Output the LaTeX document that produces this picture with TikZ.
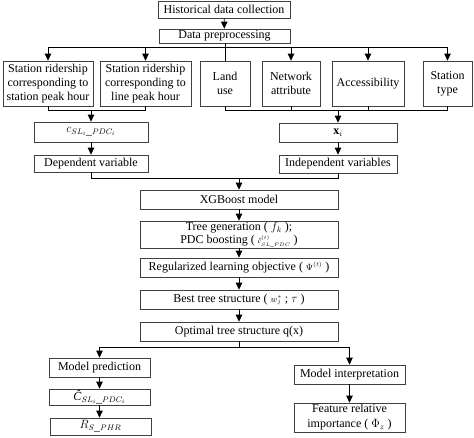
\documentclass[tikz,border=0pt]{standalone}
\usepackage{fontspec}
\setmainfont{Liberation Serif}
\usetikzlibrary{arrows.meta}
\begin{document}
\begin{tikzpicture}[x=1pt,y=-1pt,
  box/.style={draw=black!75,line width=0.7pt,inner sep=0pt,align=center,
    font=\fontsize{12}{14}\selectfont},
  conn/.style={draw=black,line width=0.8pt},
  arr/.style={conn,-{Triangle[width=6.5pt,length=7pt]}}]
\useasboundingbox (0,0) rectangle (474,438);
% top
\node[box,minimum width=132,minimum height=17] (hist) at (224,9.5) {Historical data collection};
\node[box,minimum width=131,minimum height=14] (prep) at (224.5,36) {Data preprocessing};
% row of factors
\node[box,minimum width=90,minimum height=45] (s1) at (48,83.5) {Station ridership\\corresponding to\\station peak hour};
\node[box,minimum width=91,minimum height=45] (s2) at (145.5,83.5) {Station ridership\\corresponding to\\line peak hour};
\node[box,minimum width=50,minimum height=45] (land) at (225,83.5) {Land\\use};
\node[box,minimum width=58,minimum height=45] (net) at (291,83.5) {Network\\attribute};
\node[box,minimum width=72,minimum height=45] (acc) at (368,83.5) {Accessibility};
\node[box,minimum width=49,minimum height=45] (stype) at (447.5,83.5) {Station\\type};
% variables
\node[box,minimum width=114,minimum height=20] (cvar) at (91,132) {$c_{SL_i\_PDC_i}$};
\node[box,minimum width=114,minimum height=17] (dep) at (91,163.5) {Dependent variable};
\node[box,minimum width=118,minimum height=19] (xvar) at (338,132.5) {$\mathbf{x}_i$};
\node[box,minimum width=118,minimum height=18] (indep) at (338,164) {Independent variables};
% model chain
\node[box,minimum width=198,minimum height=19] (xgb) at (239,199.5) {XGBoost model};
\node[box,minimum width=198,minimum height=27,font=\fontsize{12}{13}\selectfont] (tree) at (239,234.5) {Tree generation ( $f_k$ );\\PDC boosting ( {\scriptsize\textit{ĉ}$^{(t)}_{SL\_PDC}$} )};
\node[box,minimum width=198,minimum height=19] (reg) at (239,267.5) {Regularized learning objective ( {\small$\Psi^{(t)}$} )};
\node[box,minimum width=198,minimum height=19] (best) at (239,299.5) {Best tree structure ( {\small$w_j^{*}$} ; $\tau$ )};
\node[box,minimum width=198,minimum height=19] (opt) at (239,331.5) {Optimal tree structure q(x)};
% outputs
\node[box,minimum width=101,minimum height=19] (mp) at (99.5,367.5) {Model prediction};
\node[box,minimum width=101,minimum height=16] (chat) at (99.5,397) {\textit{Ĉ}$_{SL_i\_PDC_i}$};
\node[box,minimum width=101,minimum height=17] (rphr) at (100.5,426.5) {$R_{S\_PHR}$};
\node[box,minimum width=111,minimum height=19] (mi) at (349.5,374.5) {Model interpretation};
\node[box,minimum width=111,minimum height=29,font=\fontsize{12}{15}\selectfont] (feat) at (349.5,417.5) {Feature relative\\importance ( $\Phi_z$ )};
% coordinates
\coordinate (busL) at (48,47);
\coordinate (busR) at (447.5,47);
% connectors top
\draw[arr] (hist) -- (prep);
\draw[conn] (prep.south -| land) -- (land.north);
\draw[conn] (busL) -- (busR);
\draw[arr] (busL) -- (s1.north);
\draw[arr] (busL -| s2) -- (s2.north);
\draw[arr] (busL -| net) -- (net.north);
\draw[arr] (busL -| acc) -- (acc.north);
\draw[arr] (busR) -- (stype.north);
% left join
\coordinate (jl) at (91,110);
\draw[conn] (s1.south) |- (jl);
\draw[conn] (s2.south) |- (jl);
\draw[arr] (jl) -- (cvar.north);
\draw[arr] (cvar) -- (dep);
% right join
\coordinate (jr) at (338,110);
\draw[conn] (land.south) |- (stype.south |- jr) -- (stype.south);
\draw[conn] (net.south) -- (net.south |- jr);
\draw[conn] (acc.south) -- (acc.south |- jr);
\draw[arr] (jr) -- (xvar.north);
\draw[arr] (xvar) -- (indep);
% merge
\coordinate (jm) at (239,178);
\draw[conn] (dep.south) |- (indep.south |- jm) -- (indep.south);
\draw[arr] (jm) -- (xgb.north);
\draw[arr] (xgb) -- (tree);
\draw[arr] (tree) -- (reg);
\draw[arr] (reg) -- (best);
\draw[arr] (best) -- (opt);
% split
\coordinate (js) at (239,347);
\draw[conn] (opt.south) -- (js);
\draw[arr] (js) -| (mp.north);
\draw[arr] (js) -| (mi.north);
\draw[arr] (mp) -- (chat);
\draw[arr] (chat.south) -- (chat.south |- rphr.north);
\draw[arr] (mi) -- (feat);
\end{tikzpicture}
\end{document}
